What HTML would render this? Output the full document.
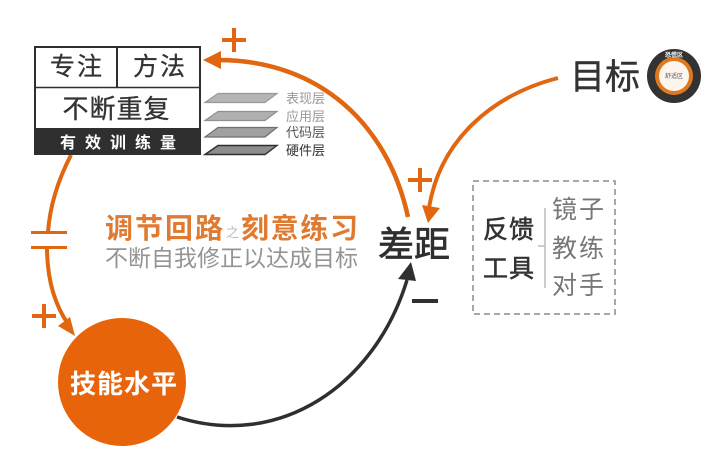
<!DOCTYPE html>
<html lang="zh">
<head>
<meta charset="utf-8">
<style>
html,body{margin:0;padding:0;background:#fff}
svg{display:block}
text{font-family:"Liberation Sans","Noto Sans CJK SC",sans-serif}
</style>
</head>
<body>
<svg width="720" height="473" viewBox="0 0 720 473" xmlns="http://www.w3.org/2000/svg">
<rect width="720" height="473" fill="#fff"/>

<!-- Connectors -->
<g fill="none" stroke="#e0660f" stroke-linecap="butt">
  <path d="M408 217 C388 125 320 60 218 60" stroke-width="4.500"/>
  <path d="M558 78 C492 95 440 140 429 208" stroke-width="4"/>
  <path d="M71 155 C58 180 50 205 48 232" stroke-width="4"/>
  <path d="M47 247 C47 280 55 305 68 324" stroke-width="4"/>
</g>
<polygon points="203,60 221,51 221,69" fill="#e0660f"/>
<polygon points="428,223 422,205 440,208" fill="#e0660f"/>
<polygon points="75,336 58,326 70,317" fill="#e0660f"/>

<!-- Gap bars -->
<rect x="31" y="231" width="36" height="3" fill="#e0660f"/>
<rect x="31" y="246" width="36" height="3" fill="#e0660f"/>

<!-- Plus signs -->
<g fill="#e0660f">
  <rect x="222" y="38" width="24" height="4"/><rect x="232" y="28" width="4" height="24"/>
  <rect x="408" y="178" width="24" height="4"/><rect x="418" y="168" width="4" height="24"/>
  <rect x="32" y="314" width="24" height="4"/><rect x="42" y="304" width="4" height="24"/>
</g>

<!-- Dark arc -->
<path d="M177 417 C280 450 375 385 407 280" fill="none" stroke="#2f2f2f" stroke-width="3.500"/>
<polygon points="411,262 398,279 416,281" fill="#2f2f2f"/>
<rect x="412" y="299" width="26" height="4" fill="#2f2f2f"/>

<!-- Skill circle -->
<circle cx="122" cy="382" r="64" fill="#e8640a"/>
<text x="70" y="393" font-size="26" font-weight="700" fill="#fff" textLength="107" lengthAdjust="spacing">技能水平</text>

<!-- Top-left box -->
<rect x="35" y="47" width="165" height="107" fill="#fff" stroke="#2f2f2f" stroke-width="2"/>
<line x1="117" y1="47" x2="117" y2="87" stroke="#2f2f2f" stroke-width="2"/>
<line x1="35" y1="87.500" x2="200" y2="87.500" stroke="#2f2f2f" stroke-width="1.500"/>
<rect x="34" y="128" width="167" height="27" fill="#2f2f2f"/>
<g stroke="#333" stroke-width="0.300">
<text x="76" y="75" font-size="25" fill="#333" text-anchor="middle" textLength="52">专注</text>
<text x="159" y="75" font-size="25" fill="#333" text-anchor="middle" textLength="52">方法</text>
<text x="116" y="118" font-size="26" fill="#333" text-anchor="middle" textLength="107">不断重复</text>
</g>
<text x="118" y="148" font-size="16" font-weight="700" fill="#fff" text-anchor="middle" textLength="116">有效训练量</text>

<!-- Layers -->
<polygon points="205,102.500 218,93.500 277,93.500 265,102.500" fill="#b5b5b5" stroke="#999" stroke-width="1.200"/>
<polygon points="205,120.500 218,111.500 277,111.500 265,120.500" fill="#b0b0b0" stroke="#909090" stroke-width="1.200"/>
<polygon points="205,137 218,127.500 277,127.500 265,137" fill="#a0a0a0" stroke="#707070" stroke-width="1.200"/>
<polygon points="205,154.500 218,145.500 277,145.500 265,154.500" fill="#8d8d8d" stroke="#2f2f2f" stroke-width="1.400"/>
<g font-size="13" text-anchor="start">
  <text x="286" y="103" fill="#999" textLength="39">表现层</text>
  <text x="286" y="121" fill="#999" textLength="39">应用层</text>
  <text x="286" y="137" fill="#555" textLength="39">代码层</text>
  <text x="286" y="155" fill="#333" textLength="39">硬件层</text>
</g>

<!-- Target -->
<text x="570" y="89" font-size="35" fill="#333" stroke="#333" stroke-width="0.400" textLength="70">目标</text>
<circle cx="674" cy="76" r="27" fill="#333"/>
<circle cx="674" cy="76" r="19" fill="#e0781f"/>
<circle cx="674" cy="76" r="15" fill="#fdf6ee"/>
<text x="674" y="57" font-size="6" font-weight="700" fill="#fff" text-anchor="middle">恐慌区</text>
<text x="674" y="78" font-size="6" fill="#555" text-anchor="middle">舒适区</text>

<!-- Title -->
<g font-size="28" font-weight="700" fill="#df7a30">
  <text x="105" y="238" textLength="118">调节回路</text>
  <text x="241" y="238" textLength="117">刻意练习</text>
</g>
<text x="226" y="237" font-size="13" fill="#bbb">之</text>
<text x="105" y="266" font-size="23" fill="#949494" textLength="253">不断自我修正以达成目标</text>

<!-- Gap label -->
<text x="378" y="257" font-size="36" fill="#2f2f2f" stroke="#2f2f2f" stroke-width="0.700" textLength="72">差距</text>

<!-- Feedback box -->
<rect x="473" y="181" width="142" height="133" fill="none" stroke="#8c8c8c" stroke-width="1.500" stroke-dasharray="6 4"/>
<g stroke="#333" stroke-width="0.600">
<text x="483" y="238" font-size="25" fill="#333" textLength="51">反馈</text>
<text x="483" y="277" font-size="25" fill="#333" textLength="51">工具</text>
</g>
<line x1="545" y1="208" x2="545" y2="288" stroke="#bbb" stroke-width="1.500"/>
<line x1="538" y1="246" x2="545" y2="246" stroke="#bbb" stroke-width="1.500"/>
<g font-size="25" fill="#777">
  <text x="552" y="218" textLength="52">镜子</text>
  <text x="552" y="257" textLength="52">教练</text>
  <text x="552" y="294" textLength="52">对手</text>
</g>
</svg>
</body>
</html>
